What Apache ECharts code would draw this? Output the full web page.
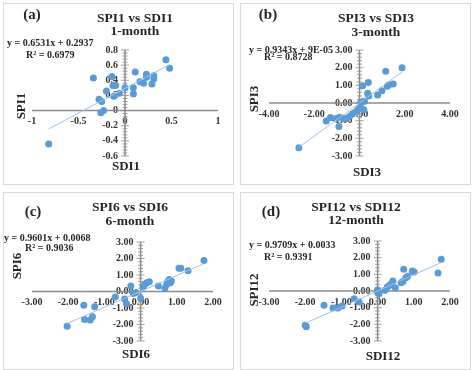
<!DOCTYPE html>
<html><head><meta charset="utf-8">
<script src="https://cdn.jsdelivr.net/npm/echarts@6/dist/echarts.min.js"></script>
<style>
html,body{margin:0;padding:0;background:#fff}
#wrap{position:relative;width:474px;height:370px}
#c{width:474px;height:370px}
.box{position:absolute;border:1px solid #D9D9D9;box-sizing:border-box;pointer-events:none}
</style>
</head><body><div id="wrap"><div id="c"></div></div>
<script>
// ---- data ----
const SDI1 = [-0.82, -0.34, -0.14, -0.13, -0.10, -0.20, -0.06, -0.12, 0.00, -0.28, -0.25, -0.26, -0.23, 0.09, 0.09, 0.11, 0.16, 0.20, 0.23, 0.23, 0.29, 0.31, 0.31, 0.44, 0.48];
const SPI1 = [-0.44, 0.43, 0.45, 0.33, 0.33, 0.26, 0.23, 0.19, 0.30, 0.15, 0.12, -0.03, 0.00, 0.30, 0.22, 0.51, 0.38, 0.36, 0.48, 0.44, 0.35, 0.46, 0.42, 0.67, 0.56];

const SDI3 = [-2.68, -1.47, -1.28, -1.02, -0.91, -0.88, -0.72, -0.59, -0.44, -0.32, -0.15, -0.04, 0.07, 0.19, 0.05, 0.15, 0.22, 0.14, 0.39, 0.36, 0.41, 0.80, 0.99, 1.16, 1.23, 1.30, 1.49, 1.88];
const SPI3 = [-2.53, -1.02, -0.82, -0.88, -1.33, -0.80, -0.86, -0.88, -0.75, -0.62, -0.48, -0.32, -0.30, -0.38, 0.02, 0.08, 0.10, 0.97, 1.16, 0.55, 0.40, 0.45, 0.70, 1.80, 0.95, 1.03, 1.08, 2.00];

const SDI6 = [-2.03, -1.57, -1.55, -1.39, -1.33, -1.27, -0.70, -0.44, -0.39, -0.27, -0.20, -0.13, 0.00, 0.07, 0.12, 0.17, 0.24, 0.49, 0.67, 0.72, 0.75, 0.79, 0.82, 0.85, 1.06, 1.11, 1.31, 1.75];
const SPI6 = [-2.10, -0.84, -1.69, -1.73, -1.53, -0.92, -0.33, -0.45, -0.74, 0.33, -0.12, -0.06, -0.41, 0.28, 0.44, 0.53, 0.59, 0.33, 0.20, 0.42, 0.59, 0.73, 0.53, 0.63, 1.41, 1.41, 1.26, 1.88];

const SDI12 = [-2.00, -1.97, -1.48, -1.23, -1.10, -0.98, -0.65, -0.51, 0.00, 0.04, 0.00, 0.20, 0.27, 0.33, 0.38, 0.42, 0.49, 0.65, 0.70, 0.72, 0.78, 0.83, 0.96, 1.01, 1.67, 1.76];
const SPI12 = [-2.05, -2.15, -0.86, -1.02, -1.02, -0.90, -0.46, -0.66, 0.08, -0.16, -0.10, 0.04, 0.24, 0.34, 0.44, 0.60, 0.20, 0.50, 0.57, 1.30, 0.80, 0.88, 1.20, 1.14, 1.08, 1.90];

// trendline coefficients as printed on the chart
const slopes = [0.6531, 0.9343, 0.9601, 0.9709];
const intercepts = [0.2937, 0.00009, 0.0068, 0.0033];
const equationLabels = ['y = 0.6531x + 0.2937', 'y = 0.9343x + 9E-05', 'y = 0.9601x + 0.0068', 'y = 0.9709x + 0.0033'];
const r2Labels = ['R² = 0.6979', 'R² = 0.8728', 'R² = 0.9036', 'R² = 0.9391'];
const panelLetters = ['(a)', '(b)', '(c)', '(d)'];
const titles = ['SPI1 vs SDI1', 'SPI3 vs SDI3', 'SPI6 vs SDI6', 'SPI12 vs SDI12'];
const subtitles = ['1-month', '3-month', '6-month', '12-month'];
const yNames = ['SPI1', 'SPI3', 'SPI6', 'SPI12'];
const xNames = ['SDI1', 'SDI3', 'SDI6', 'SDI12'];

// tick values
const xTicksA = [-1, -0.5, 0, 0.5, 1];
const yTicksA = [-0.6, -0.4, -0.2, 0, 0.2, 0.4, 0.6, 0.8];
const xTicksB = [-4, -2, 0, 2, 4];
const yTicksB = [-3, -2, -1, 0, 1, 2, 3];
const xTicksC = [-3, -2, -1, 0, 1, 2];
const yTicksC = [-3, -2, -1, 0, 1, 2, 3];
const xTicksD = [-3, -2, -1, 0, 1, 2];
const yTicksD = [-3, -2, -1, 0, 1, 2, 3];

// ---- layout ----
const FONT = '"Liberation Serif", "Times New Roman", serif';
const xs = [SDI1, SDI3, SDI6, SDI12];
const ys = [SPI1, SPI3, SPI6, SPI12];
const xTicks = [xTicksA, xTicksB, xTicksC, xTicksD];
const yTicks = [yTicksA, yTicksB, yTicksC, yTicksD];
const decimals = [1, 2, 2, 2];
const grids = [
  {left: 32, top: 50, width: 186, height: 106},
  {left: 269, top: 50, width: 181, height: 106},
  {left: 32, top: 242, width: 181, height: 99},
  {left: 269, top: 241, width: 181, height: 100}
];
const boxes = [[3, 3, 231, 182], [240, 3, 231, 182], [3, 192, 231, 178], [240, 192, 231, 178]];
const letterPos = [[32, 15], [268, 15], [33, 212], [271, 212]];
const titlePos = [[135, 19, 32], [376, 19, 33], [130, 208, 222], [356, 208, 221]];
const eqPos = [[7, 43, 26, 55], [249, 50, 264, 57], [4, 238, 25, 248], [249, 245, 264, 257]];
const yNamePos = [[22, 106], [255, 99], [18, 266], [255, 290]];
const xNamePos = [[126, 167], [367, 173], [136, 355], [383, 357]];

const COLOR = '#5B9BD5';
const AXIS = '#8C8C8C';
const LABEL = '#333333';

// panel frames
const wrap = document.getElementById('wrap');
boxes.forEach(b => {
  const el = document.createElement('div');
  el.className = 'box';
  el.style.left = b[0] + 'px'; el.style.top = b[1] + 'px';
  el.style.width = b[2] + 'px'; el.style.height = b[3] + 'px';
  wrap.appendChild(el);
});

const grid = [], xAxis = [], yAxis = [], series = [], graphic = [];
for (let i = 0; i < 4; i++) {
  const g = grids[i];
  grid.push(Object.assign({}, g));
  const xt = xTicks[i], yt = yTicks[i], d = decimals[i];
  const xmin = xt[0], xmax = xt[xt.length - 1], ymin = yt[0], ymax = yt[yt.length - 1];
  const fmt = v => d === 1 ? String(+(+v).toFixed(1)) : (+v).toFixed(2);
  // labels sit next to the zero-crossing axes (Excel style)
  const xAxisOffset = -g.height * (0 - ymin) / (ymax - ymin);
  const yAxisOffset = -g.width * (0 - xmin) / (xmax - xmin);
  xAxis.push({
    type: 'value', gridIndex: i, min: xmin, max: xmax, interval: xt[1] - xt[0],
    position: 'bottom', offset: xAxisOffset,
    axisLine: {show: false, onZero: false}, axisTick: {show: false}, splitLine: {show: false},
    axisLabel: {formatter: fmt, fontFamily: FONT, fontWeight: 'bold', fontSize: 10, color: LABEL, margin: 6}
  });
  yAxis.push({
    type: 'value', gridIndex: i, min: ymin, max: ymax, interval: yt[1] - yt[0],
    position: 'left', offset: yAxisOffset,
    axisLine: {show: false, onZero: false}, axisTick: {show: false}, splitLine: {show: false},
    axisLabel: {formatter: fmt, fontFamily: FONT, fontWeight: 'bold', fontSize: 10, color: LABEL, margin: 7}
  });
  // zero axis lines, drawn through the library's scales
  series.push({
    type: 'line', xAxisIndex: i, yAxisIndex: i, showSymbol: false, symbol: 'none', silent: true, z: 1,
    data: [[xmin, 0], [xmax, 0]], lineStyle: {color: AXIS, width: 1.5}
  });
  series.push({
    type: 'line', xAxisIndex: i, yAxisIndex: i, showSymbol: false, symbol: 'none', silent: true, z: 1,
    data: [[0, ymin], [0, ymax]], lineStyle: {color: AXIS, width: 1.5}
  });
  // y-axis tick marks (major at tick values, minor at fifths between them)
  const minor = [];
  for (let k = 0; k < yt.length - 1; k++) {
    for (let m = 1; m < 5; m++) minor.push([0, yt[k] + (yt[k + 1] - yt[k]) * m / 5]);
  }
  series.push({
    type: 'scatter', xAxisIndex: i, yAxisIndex: i, silent: true, z: 1,
    symbol: 'rect', symbolSize: [8, 1], itemStyle: {color: AXIS},
    data: yt.map(v => [0, v])
  });
  series.push({
    type: 'scatter', xAxisIndex: i, yAxisIndex: i, silent: true, z: 1,
    symbol: 'rect', symbolSize: [5, 1], itemStyle: {color: AXIS},
    data: minor
  });
  const pts = xs[i].map((x, k) => [x, ys[i][k]]);
  series.push({
    type: 'scatter', xAxisIndex: i, yAxisIndex: i, data: pts, symbolSize: 7,
    itemStyle: {color: COLOR, opacity: 1}, z: 3, silent: true
  });
  const dxmin = Math.min(...xs[i]), dxmax = Math.max(...xs[i]);
  series.push({
    type: 'line', xAxisIndex: i, yAxisIndex: i, showSymbol: false, symbol: 'none',
    data: [[dxmin, slopes[i] * dxmin + intercepts[i]], [dxmax, slopes[i] * dxmax + intercepts[i]]],
    lineStyle: {color: '#9DC3E6', width: 1}, z: 4, silent: true
  });
  const txt = (text, x, y, size, align, rot) => ({
    type: 'text', x: x, y: y, rotation: rot || 0, silent: true, z: 10,
    style: {text: text, font: 'bold ' + size + 'px ' + FONT, fill: '#262626',
      align: align, verticalAlign: 'middle', textAlign: align, textVerticalAlign: 'middle'}
  });
  graphic.push(txt(panelLetters[i], letterPos[i][0], letterPos[i][1], 15, 'center'));
  graphic.push(txt(titles[i], titlePos[i][0], titlePos[i][1], 13.5, 'center'));
  graphic.push(txt(subtitles[i], titlePos[i][0], titlePos[i][2], 13.5, 'center'));
  graphic.push(txt(equationLabels[i], eqPos[i][0], eqPos[i][1], 10, 'left'));
  graphic.push(txt(r2Labels[i], eqPos[i][2], eqPos[i][3], 10, 'left'));
  graphic.push(txt(yNames[i], yNamePos[i][0], yNamePos[i][1], 13, 'center', Math.PI / 2));
  graphic.push(txt(xNames[i], xNamePos[i][0], xNamePos[i][1], 13, 'center'));
}

const chart = echarts.init(document.getElementById('c'), null, {renderer: 'canvas'});
chart.setOption({animation: false, grid, xAxis, yAxis, series, graphic});
</script>
</body></html>
